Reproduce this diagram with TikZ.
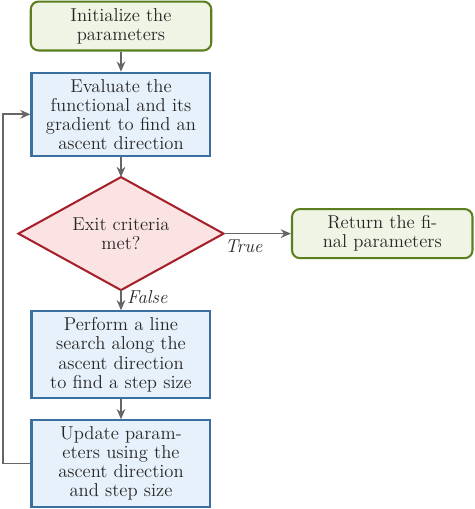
\documentclass[tikz,border=0pt]{standalone}
\usepackage{tikz}
\usetikzlibrary{arrows.meta, positioning, backgrounds}

\definecolor{termline}{HTML}{5B7F1F}
\definecolor{termfill}{HTML}{EFF4E4}
\definecolor{procline}{HTML}{3A6F9F}
\definecolor{procfill}{HTML}{E6F1FB}
\definecolor{decline}{HTML}{A6202A}
\definecolor{decfill}{HTML}{FBE3E3}
\definecolor{arrowgray}{HTML}{666666}

\begin{document}
\begin{tikzpicture}[
      node distance=0.45cm,
      every node/.style={text=black!85, font=\fontsize{11.8}{12.1}\selectfont},
      terminal/.style={rectangle, rounded corners=5pt, draw=termline, fill=termfill, line width=1.3pt,
        text width=3.7cm, align=center, inner xsep=4.5pt, inner ysep=4.2pt},
      process/.style={rectangle, draw=procline, fill=procfill, line width=1.3pt,
        text width=3.7cm, align=center, inner xsep=4pt, inner ysep=4pt},
      decision/.style={rectangle, minimum width=4.55cm, minimum height=2.5cm, inner sep=0pt, align=center},
      rhombus/.style={draw=decline, fill=decfill, line width=1.3pt},
      flow/.style={-{Stealth[length=6.5pt, width=5.5pt]}, line width=1.1pt, draw=arrowgray}
    ]
      \useasboundingbox (-2.692,0.579) rectangle ++(10.547,-11.325);

      \node[terminal] (init) {Initialize the\\parameters};
      \node[process, below=of init] (eval) {Evaluate the\\functional and its\\gradient to find an\\ascent direction};
      \node[decision, below=of eval] (check) {Exit criteria\\met?};
      \node[terminal, right=1.5cm of check] (result) {Return the fi-\\nal parameters};
      \node[process, below=of check] (search) {Perform a line\\search along the\\ascent direction\\to find a step size};
      \node[process, below=of search] (update) {Update param-\\eters using the\\ascent direction\\and step size};

      % diamond behind the test
      \begin{scope}[on background layer]
        \filldraw[rhombus] (check.north) -- (check.east) -- (check.south) -- (check.west) -- cycle;
      \end{scope}

      \draw[flow] (init) -- (eval);
      \draw[flow] (eval) -- (check);
      \draw[flow] (check) -- node[pos=0.3, below] {\itshape True} (result);
      \draw[flow] (check) -- node[pos=0.35, right] {\itshape False} (search);
      \draw[flow] (search) -- (update);
      \draw[flow] (update.west) -- ++(-0.62,0) |- (eval.west);
    \end{tikzpicture}
\end{document}
